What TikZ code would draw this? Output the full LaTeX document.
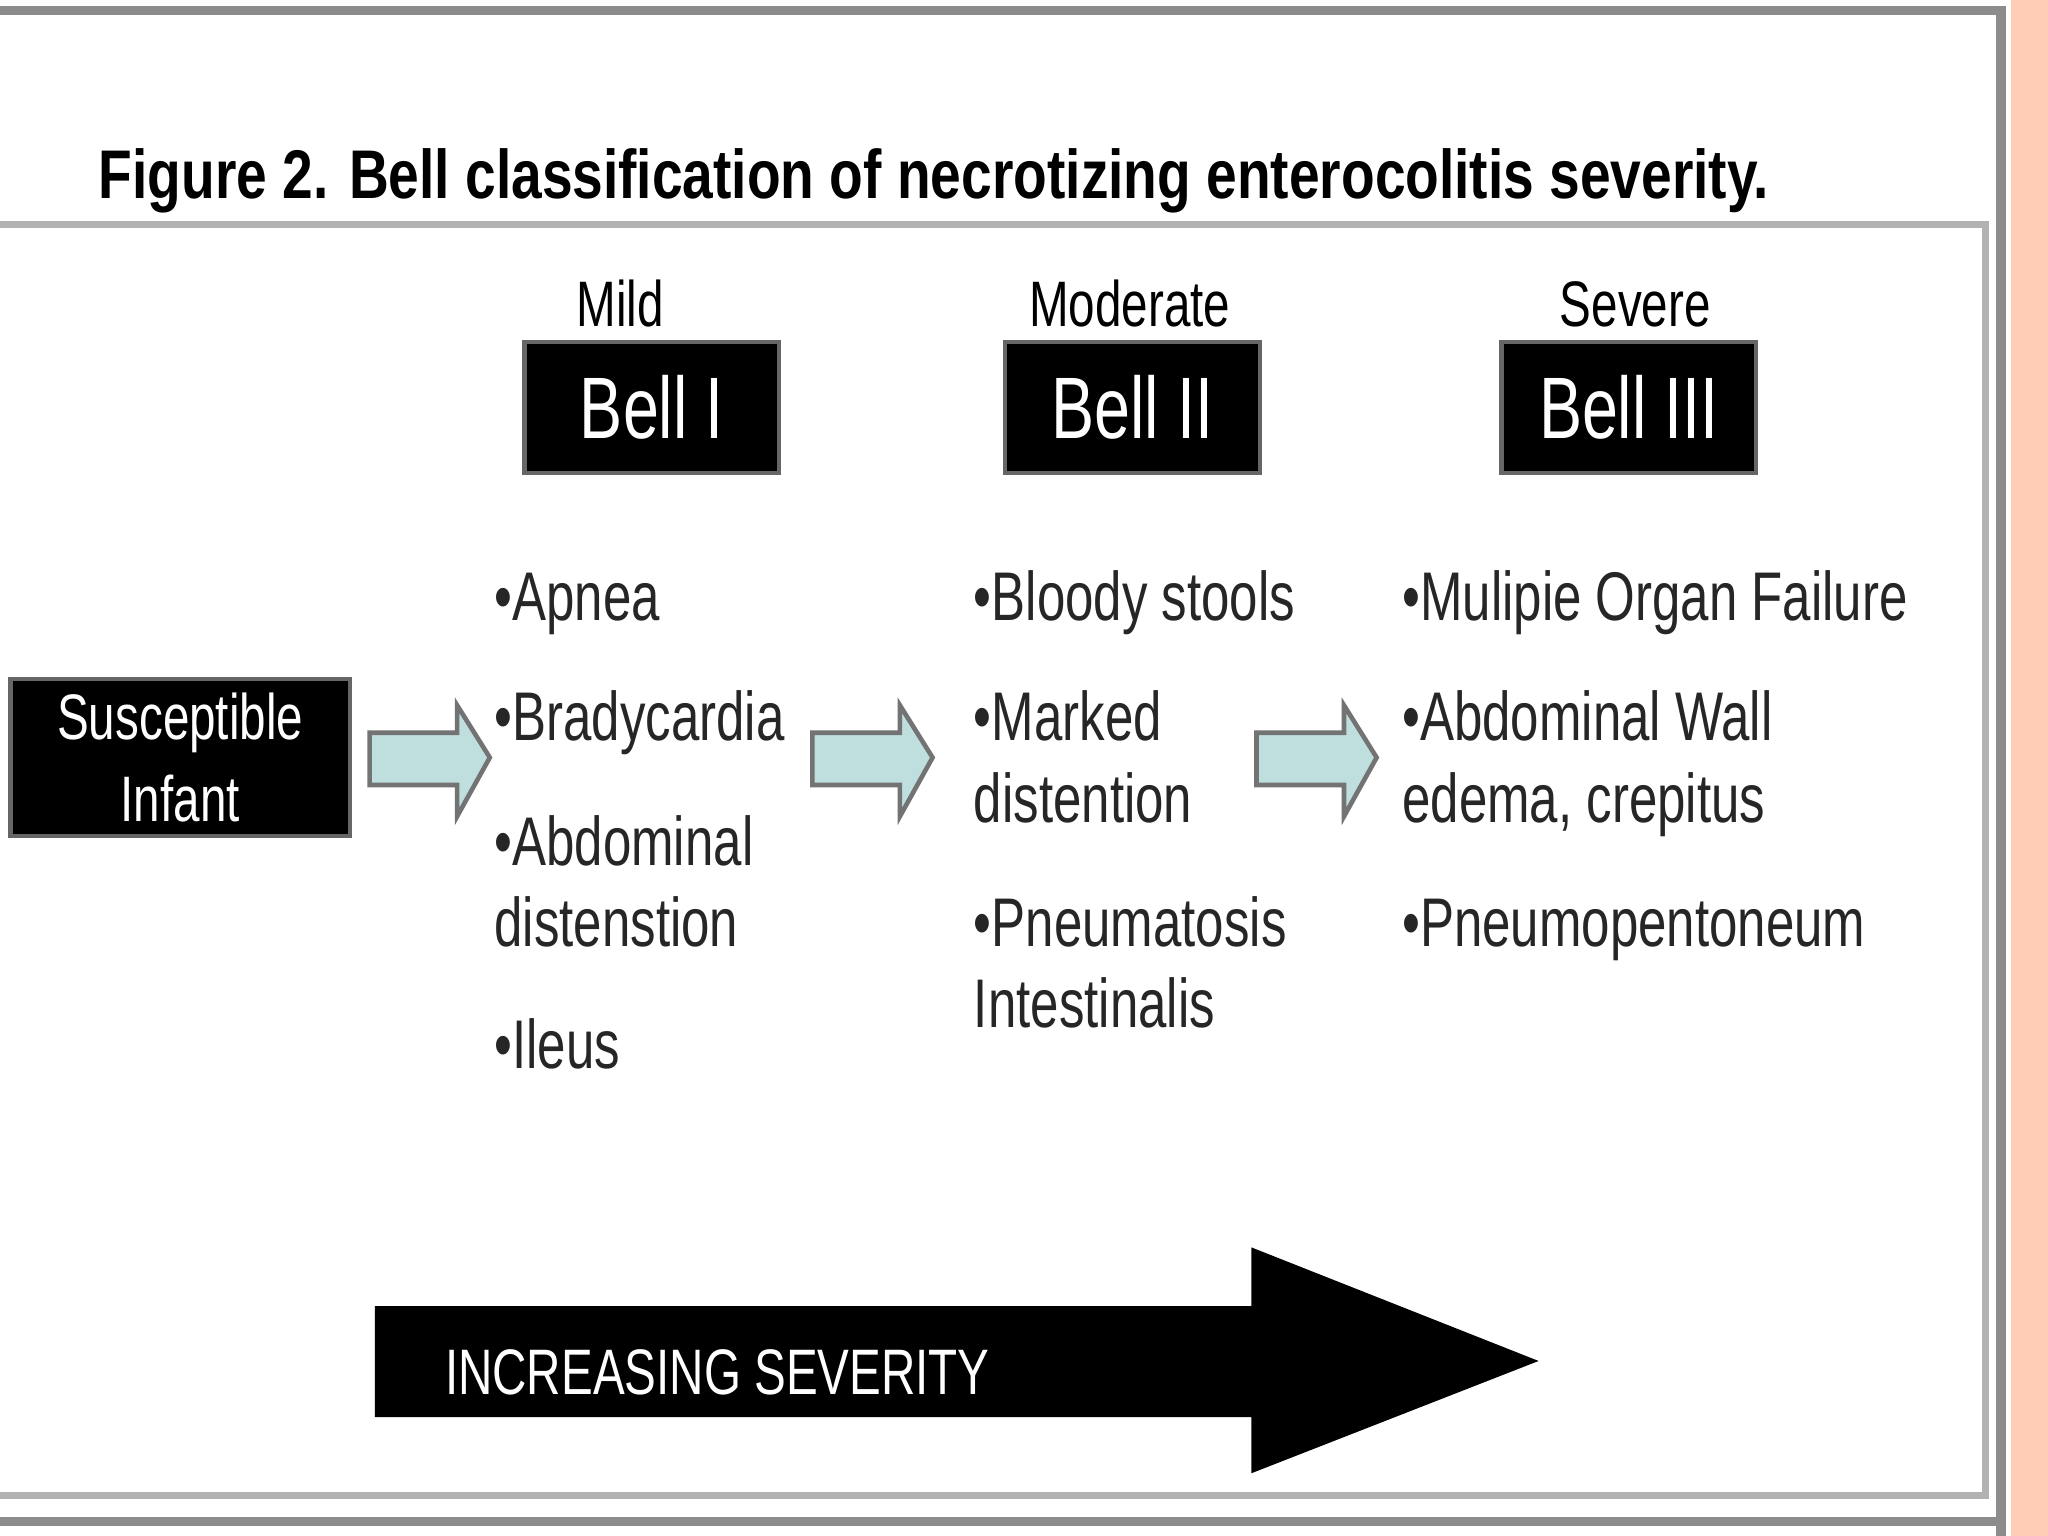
\documentclass[tikz,border=0pt]{standalone}
\usepackage{fontspec}
\setmainfont{Liberation Sans}
\newfontfamily\nar[FakeStretch=0.74]{Liberation Sans}
\newfontfamily\narb[FakeStretch=0.8]{Liberation Sans}
\begin{document}
\begin{tikzpicture}[x=0.01cm,y=-0.01cm,
  lbl/.style={anchor=base west,font=\nar\fontsize{15}{18}\selectfont,text=black!85,inner sep=0pt,align=left},
  hdr/.style={anchor=base,font=\nar\fontsize{14}{17}\selectfont,inner sep=0pt},
  blk/.style={fill=black,text=white,draw=black!60,line width=1pt,align=center,inner sep=0pt},
  harrow/.style={draw=black!55,fill=teal!25!white,line width=1pt}]
\useasboundingbox (0,0) rectangle (1568,1176);
\fill[white] (0,0) rectangle (1568,1176);
\fill[orange!30!pink!60] (1540,0) rectangle (1568,1176);
\draw[black!45,line width=2pt] (0,8) -- (1532,8) -- (1532,1176);
\draw[black!45,line width=2pt] (0,1165) -- (1532,1165);
\draw[black!30,line width=1.5pt] (0,172) -- (1520,172) -- (1520,1145) -- (0,1145);
\node[anchor=base west,font=\narb\bfseries\fontsize{15}{18}\selectfont,inner sep=0pt] (title) at (75,152) {Figure 2. Bell classification of necrotizing enterocolitis severity.};
\node[hdr] (mild) at (475,250) {Mild};
\node[hdr] (mod) at (865,250) {Moderate};
\node[hdr] (sev) at (1252,250) {Severe};
\node[blk,minimum width=1.95cm,minimum height=1cm,font=\nar\fontsize{19}{22}\selectfont] (b1) at (499,312) {Bell I};
\node[blk,minimum width=1.95cm,minimum height=1cm,font=\nar\fontsize{19}{22}\selectfont] (b2) at (867,312) {Bell II};
\node[blk,minimum width=1.95cm,minimum height=1cm,font=\nar\fontsize{19}{22}\selectfont] (b3) at (1247,312) {Bell III};
\node[blk,minimum width=2.6cm,minimum height=1.2cm,font=\nar\fontsize{14}{18}\selectfont] (si) at (138,580) {Susceptible\\Infant};
\foreach \x/\n in {283/a1,622/a2,962/a3}{
  \draw[harrow] (\x,561) -- ++(67,0) -- ++(0,-21) -- ++(25,40) -- ++(-25,45) -- ++(0,-24) -- ++(-67,0) -- cycle;
}
\node[lbl] (l1) at (378,475) {•Apnea};
\node[lbl] (l2) at (378,567) {•Bradycardia};
\node[lbl] (l3) at (378,663) {•Abdominal};
\node[lbl] (l3b) at (378,725) {distenstion};
\node[lbl] (l4) at (378,818) {•Ileus};
\node[lbl] (m1) at (745,475) {•Bloody stools};
\node[lbl] (m2) at (745,567) {•Marked};
\node[lbl] (m2b) at (745,630) {distention};
\node[lbl] (m3) at (745,725) {•Pneumatosis};
\node[lbl] (m3b) at (745,787) {Intestinalis};
\node[lbl] (r1) at (1073,475) {•Mulipie Organ Failure};
\node[lbl] (r2) at (1073,567) {•Abdominal Wall};
\node[lbl] (r2b) at (1073,630) {edema, crepitus};
\node[lbl] (r3) at (1073,725) {•Pneumopentoneum};
\fill[black] (287,1000) -- (958,1000) -- (958,955) -- (1178,1042) -- (958,1128) -- (958,1085) -- (287,1085) -- cycle;
\node[anchor=base west,text=white,font=\nar\fontsize{14}{18}\selectfont,inner sep=0pt] (inc) at (340,1068) {INCREASING SEVERITY};
\end{tikzpicture}
\end{document}
